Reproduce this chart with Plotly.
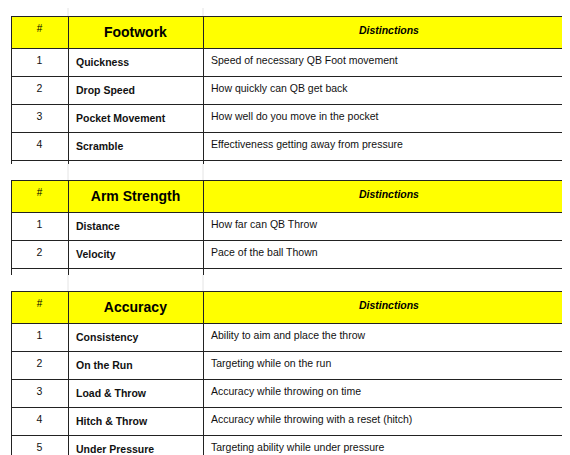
import plotly.graph_objects as go

# section titles
sections = ["Footwork", "Arm Strength", "Accuracy"]

footwork_skills = ["Quickness", "Drop Speed", "Pocket Movement", "Scramble",
                   "Play Action", "Gun Drop", "Under Drop"]
footwork_desc = ["Speed of necessary QB Foot movement",
                 "How quickly can QB get back",
                 "How well do you move in the pocket",
                 "Effectiveness getting away from pressure",
                 "Speed and precision of play fakes",
                 "Drop Fundamentals from gun alignments",
                 "Drop Fundamentals from under alignments"]

arm_skills = ["Distance", "Velocity", "Stamina", "Ball Speed Control"]
arm_desc = ["How far can QB Throw",
            "Pace of the ball Thown",
            "Arm endurance and health",
            "Ability to throttle the velocity as necessary"]

acc_skills = ["Consistency", "On the Run", "Load & Throw", "Hitch & Throw",
              "Under Pressure", "Touch", "Firm", "Drive"]
acc_desc = ["Ability to aim and place the throw",
            "Targeting while on the run",
            "Accuracy while throwing on time",
            "Accuracy while throwing with a reset (hitch)",
            "Targeting ability while under pressure",
            "Accuracy on throws with arc (Level 3)",
            "Accuracy on throws with firm tradjectory (Level 2)",
            "Accuracy on passes with high velocity (Level 1)"]

W, H = 570, 455
FONT = "Liberation Sans"
# top pixel of each table and row height
tops = [8, 172, 283]
row_h = [17.7, 17.6, 18.6]
tables = [(footwork_skills, footwork_desc), (arm_skills, arm_desc), (acc_skills, acc_desc)]

fig = go.Figure()
for title, (skills, desc), top, rh in zip(sections, tables, tops, row_h):
    n = len(skills)
    bottom = min(top + 21 + rh * n + 4, H)
    fig.add_trace(go.Table(
        domain=dict(x=[3 / W, 567 / W], y=[max(0, 1 - bottom / H), 1 - top / H]),
        columnwidth=[57, 135, 372],
        header=dict(
            values=["#", f"<b>{title}</b>", "<b><i>Distinctions</i></b>"],
            fill_color="#ffff00",
            line_color="#222222", line_width=1,
            align=["center", "center", "center"],
            font=dict(family=FONT, color="black", size=[10, 14, 10.5]),
            height=21,
        ),
        cells=dict(
            values=[[str(i + 1) for i in range(n)],
                    [f"<b>{s}</b>" for s in skills],
                    desc],
            fill_color="white",
            line_color="#222222", line_width=1,
            align=["center", "left", "left"],
            font=dict(family=FONT, color="#111111", size=10.5),
            height=rh,
        ),
    ))

# faint spreadsheet grid lines behind the tables
for xp in [60, 195]:
    fig.add_shape(type="line", xref="paper", yref="paper", x0=xp / W, x1=xp / W,
                  y0=0, y1=1, line=dict(color="#e4e4e4", width=1), layer="below")

fig.update_layout(width=W, height=H, margin=dict(l=0, r=0, t=0, b=0),
                  paper_bgcolor="white", showlegend=False)
fig.write_html("out.html")
